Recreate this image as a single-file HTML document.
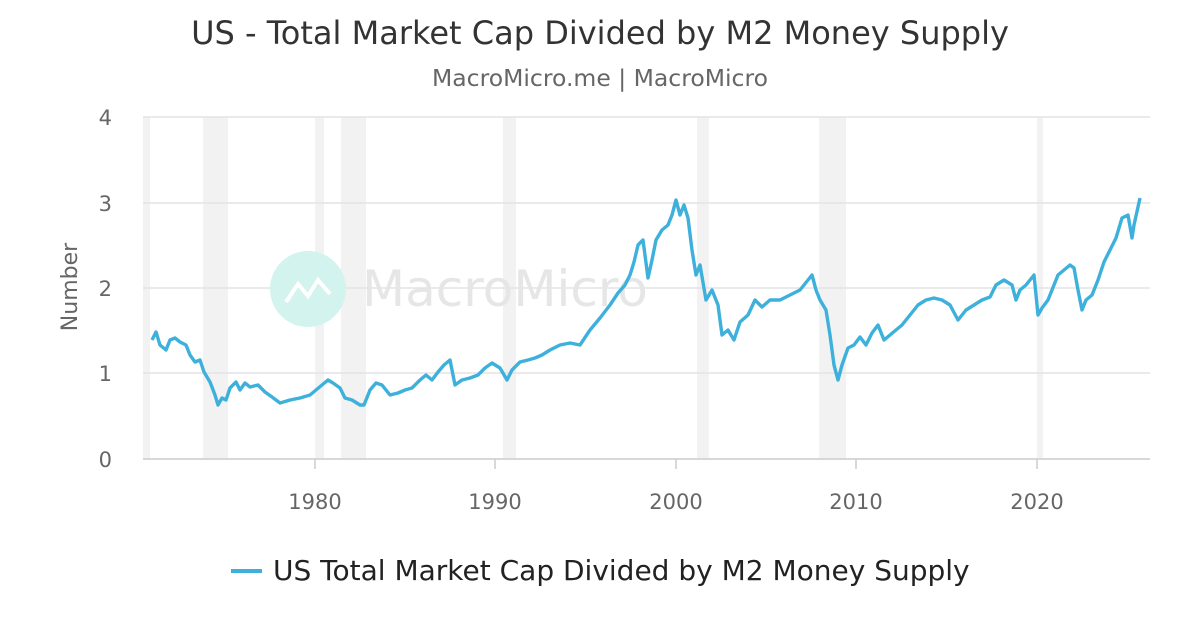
<!DOCTYPE html>
<html><head><meta charset="utf-8"><style>
html,body{margin:0;padding:0;background:#fff;}
svg{display:block;font-family:"DejaVu Sans","Liberation Sans",sans-serif;}
</style></head><body>
<svg width="1200" height="630" viewBox="0 0 1200 630" xmlns="http://www.w3.org/2000/svg">
<rect width="1200" height="630" fill="#fff"/>
<text x="600" y="44" text-anchor="middle" font-size="32" fill="#333">US - Total Market Cap Divided by M2 Money Supply</text>
<text x="600" y="86" text-anchor="middle" font-size="23.5" fill="#666">MacroMicro.me | MacroMicro</text>
<g fill="#f2f2f2">
<rect x="143" y="117" width="7" height="342"/>
<rect x="203" y="117" width="25" height="342"/>
<rect x="315" y="117" width="9" height="342"/>
<rect x="341" y="117" width="25" height="342"/>
<rect x="503" y="117" width="13" height="342"/>
<rect x="697" y="117" width="12" height="342"/>
<rect x="819" y="117" width="27" height="342"/>
<rect x="1037" y="117" width="6" height="342"/>
</g>
<g stroke="#e3e3e3" stroke-width="1.5">
<line x1="143" x2="1150" y1="117" y2="117"/>
<line x1="143" x2="1150" y1="203" y2="203"/>
<line x1="143" x2="1150" y1="288" y2="288"/>
<line x1="143" x2="1150" y1="373" y2="373"/>
</g>
<line x1="143" x2="1150" y1="459" y2="459" stroke="#ccc" stroke-width="1.5"/>
<g stroke="#ccc" stroke-width="1.5">
<line x1="315" x2="315" y1="459" y2="469"/><line x1="495" x2="495" y1="459" y2="469"/>
<line x1="676" x2="676" y1="459" y2="469"/><line x1="856" x2="856" y1="459" y2="469"/>
<line x1="1037" x2="1037" y1="459" y2="469"/>
</g>
<g font-size="21" fill="#666" text-anchor="end">
<text x="112" y="125">4</text><text x="112" y="211">3</text><text x="112" y="296">2</text>
<text x="112" y="381">1</text><text x="112" y="467">0</text>
</g>
<g font-size="21" fill="#666" text-anchor="middle">
<text x="315" y="509">1980</text><text x="495" y="509">1990</text><text x="676" y="509">2000</text>
<text x="856" y="509">2010</text><text x="1037" y="509">2020</text>
</g>
<text transform="translate(77,287) rotate(-90)" text-anchor="middle" font-size="22" fill="#666">Number</text>
<circle cx="308" cy="289" r="38" fill="#d3f3ee"/>
<polyline points="286,302 298,284 308,296 318,280 330,294" fill="none" stroke="#fff" stroke-width="4"/>
<text x="362" y="306" font-size="50" fill="#e6e6e6">MacroMicro</text>
<polyline fill="none" stroke="#3eb0dc" stroke-width="3.4" stroke-linejoin="round" points="152,340 156,332 160,345 166,350 170,340 175,338 180,342 186,345 190,355 195,362 200,360 204,372 210,382 215,395 218,405 222,398 226,400 230,388 236,382 240,390 245,383 250,387 258,385 265,392 272,397 280,403 290,400 300,398 310,395 316,390 322,385 328,380 333,383 340,388 345,398 352,400 360,405 364,405 370,390 376,383 382,385 390,395 398,393 405,390 412,388 420,380 426,375 432,380 438,372 444,365 450,360 455,385 462,380 470,378 478,375 485,368 492,363 500,368 507,380 512,370 520,362 528,360 535,358 542,355 550,350 560,345 570,343 580,345 590,330 600,318 610,305 618,293 625,285 630,275 634,262 638,245 643,240 648,278 652,260 656,240 662,230 668,225 672,215 676,200 680,215 684,205 688,218 692,250 696,275 700,265 706,300 712,290 718,305 722,335 728,330 734,340 740,322 748,315 755,300 762,307 770,300 780,300 790,295 800,290 808,280 812,275 816,290 820,300 826,310 830,335 834,365 838,380 842,365 848,348 854,345 860,337 866,345 872,333 878,325 884,340 890,335 896,330 902,325 910,315 918,305 926,300 934,298 942,300 950,305 958,320 966,310 974,305 982,300 990,297 996,285 1004,280 1012,285 1016,300 1020,290 1026,285 1034,275 1038,315 1042,308 1048,300 1052,290 1058,275 1064,270 1070,265 1074,268 1078,290 1082,310 1086,300 1092,295 1098,280 1104,262 1110,250 1116,238 1122,218 1128,215 1132,238 1134,225 1140,198"/>
<line x1="231" x2="262" y1="571" y2="571" stroke="#3eb0dc" stroke-width="4"/>
<text x="273" y="580" font-size="28" fill="#222">US Total Market Cap Divided by M2 Money Supply</text>
</svg>
</body></html>
